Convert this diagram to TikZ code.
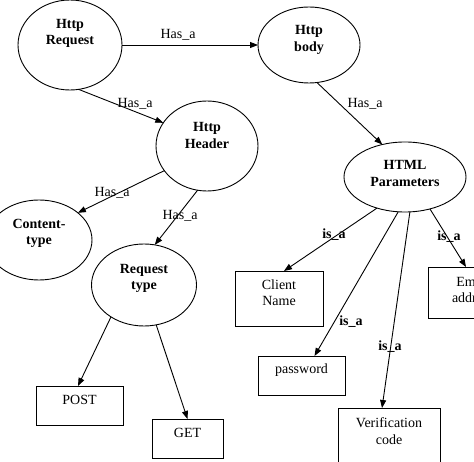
\documentclass[tikz,border=0pt]{standalone}
\usepackage{fontspec}
\setmainfont{Liberation Serif}
\usetikzlibrary{shapes.geometric,arrows.meta}
\begin{document}
\begin{tikzpicture}[x=1pt,y=-1pt,
 ell/.style={draw, ellipse, line width=0.9pt, inner sep=0pt, outer sep=0pt},
 box/.style={draw, rectangle, line width=0.9pt, inner sep=0pt, outer sep=0pt},
 etxt/.style={font=\fontsize{14}{16.5}\selectfont\bfseries, align=center, inner sep=0pt},
 btxt/.style={font=\fontsize{14}{16.5}\selectfont, align=center, inner sep=0pt},
 rel/.style={font=\fontsize{14}{16.5}\selectfont, inner sep=0pt},
 isa/.style={font=\fontsize{14}{16.5}\selectfont\bfseries, inner sep=0pt},
 conn/.style={-{Triangle[length=8pt,width=6pt]}, line width=0.9pt},
]
\useasboundingbox (0,0) rectangle (474,462);
\clip (0,0) rectangle (474,462);
\fill[white] (0,0) rectangle (474,462);

% ellipses
\node[ell, minimum width=104pt, minimum height=90pt] (req) at (70,45) {};
\node[etxt] (reqt) at (70,33.5) {Http\\Request};
\node[ell, minimum width=102pt, minimum height=76pt] (body) at (309,45) {};
\node[etxt] (bodyt) at (309,40) {Http\\body};
\node[ell, minimum width=122pt, minimum height=70pt] (html) at (405,177) {};
\node[etxt] (htmlt) at (405,173.5) {HTML\\Parameters};
\node[ell, minimum width=102pt, minimum height=90pt] (hdr) at (207,146) {};
\node[etxt] (hdrt) at (207,135.5) {Http\\Header};
\node[ell, minimum width=106pt, minimum height=80pt] (ct) at (39,240) {};
\node[etxt] (ctt) at (39,233.5) {Content-\\type};
\node[ell, minimum width=105pt, minimum height=82pt] (rt) at (144,285) {};
\node[etxt] (rtt) at (144,278.5) {Request\\type};

% boxes
\node[box, minimum width=87pt, minimum height=39pt] (post) at (79.5,405.5) {};
\node[btxt] (postt) at (79.5,400) {POST};
\node[box, minimum width=71pt, minimum height=39pt] (get) at (187.5,438.5) {};
\node[btxt] (gett) at (187.5,433) {GET};
\node[box, minimum width=88pt, minimum height=55pt] (cn) at (279,298.5) {};
\node[btxt] (cnt) at (279,292.5) {Client\\Name};
\node[box, minimum width=87pt, minimum height=39pt] (pw) at (301.5,375.5) {};
\node[btxt] (pwt) at (301.5,370) {password};
\node[box, minimum width=102pt, minimum height=60pt] (vc) at (389,438) {};
\node[btxt] (vct) at (389,431) {Verification\\code};
\node[box, minimum width=90pt, minimum height=51pt] (em) at (473,292.5) {};
\node[btxt] (emt) at (473,289.5) {Email\\address};

% connectors
\draw[conn] (req.east) -- (body.west);
\draw[conn] (req.-79) -- (hdr.152);
\draw[conn] (body.-78) -- (html.125);
\draw[conn] (hdr.210) -- (ct.35);
\draw[conn] (hdr.258) -- (rt.75);
\draw[conn] (rt.224) -- ([xshift=-1.5pt]post.north);
\draw[conn] (rt.287) -- (get.north);
\draw[conn] (html.228) -- ([xshift=5pt]cn.north);
\draw[conn] (html.259) -- ([xshift=13pt]pw.north);
\draw[conn] (html.278) -- ([xshift=-7pt]vc.north);
\draw[conn] (html.308) -- ([xshift=-7pt]em.north);

% labels
\node[rel] (l1) at (178,35) {Has\_a};
\node[rel] (l2) at (135,104) {Has\_a};
\node[rel] (l3) at (112,193) {Has\_a};
\node[rel] (l4) at (180,216) {Has\_a};
\node[rel] (l5) at (365,104) {Has\_a};
\node[isa] (i1) at (334,235) {is\_a};
\node[isa] (i2) at (351,322) {is\_a};
\node[isa] (i3) at (390,347) {is\_a};
\node[isa] (i4) at (449,237) {is\_a};
\end{tikzpicture}
\end{document}
